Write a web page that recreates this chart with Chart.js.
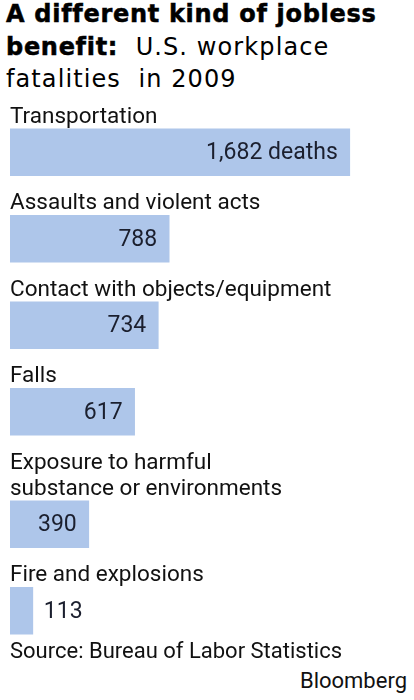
<!DOCTYPE html>
<html>
<head>
<meta charset="utf-8">
<script src="https://cdn.jsdelivr.net/npm/chart.js@4.4.1/dist/chart.umd.min.js"></script>
<style>
    html, body { margin: 0; padding: 0; background: #fff; }
    body { width: 414px; height: 700px; position: relative; overflow: hidden; font-family: Roboto, sans-serif; color: #111; }
    #title { position: absolute; left: 6px; top: -2px; font-family: "DejaVu Sans", sans-serif; font-size: 24px; letter-spacing: 1.1px; line-height: 32.5px; white-space: pre; color: #000; }
    #title b { font-weight: 700; font-size: 24px; letter-spacing: 0.7px; -webkit-text-stroke: 0.5px #000; }
    .box { position: absolute; left: 0; width: 414px; }
    #boxA { top: 84px; height: 371px; }
    #boxB { top: 439px; height: 215px; }
    .note { position: absolute; font-size: 22px; line-height: 24px; white-space: nowrap; color: #111; }
    #source { left: 10px; top: 639px; }
    #credit { right: 7px; top: 669px; }
</style>
</head>
<body>
<div id="title"><b>A different kind of jobless</b>
<b>benefit:</b>  U.S. workplace
fatalities  in 2009</div>
<div class="box" id="boxA"><canvas id="chartA"></canvas></div>
<div class="box" id="boxB"><canvas id="chartB"></canvas></div>
<div class="note" id="source">Source: Bureau of Labor Statistics</div>
<div class="note" id="credit">Bloomberg</div>
<script>
const categories = [
    ['Transportation'],
    ['Assaults and violent acts'],
    ['Contact with objects/equipment'],
    ['Falls'],
    ['Exposure to harmful', 'substance or environments'],
    ['Fire and explosions']
];
const deaths = [1682, 788, 734, 617, 390, 113];
const unitLabels = [' deaths', '', '', '', '', ''];
const xMax = 2000;

const BAR_COLOR = '#aec6ea';
const TEXT_COLOR = '#111111';
const VALUE_COLOR = '#1b1f2e';

// draws the category name above each bar and the count inside/next to it
const barLabels = {
    id: 'barLabels',
    afterDatasetsDraw(chart) {
        const ctx = chart.ctx;
        const meta = chart.getDatasetMeta(0);
        const cats = chart.data.labels;
        const vals = chart.data.datasets[0].data;
        const units = chart.options.plugins.barLabels.units;

        ctx.save();
        meta.data.forEach((bar, i) => {
            const { x, y, base, height } = bar.getProps(['x', 'y', 'base', 'height'], true);
            const top = y - height / 2;

            ctx.font = '22.5px Roboto';
            ctx.fillStyle = TEXT_COLOR;
            ctx.textAlign = 'left';
            ctx.textBaseline = 'alphabetic';
            const lines = cats[i];
            lines.forEach((line, j) => {
                const fromBottom = lines.length - 1 - j;
                ctx.fillText(line, 10, top - 6 - fromBottom * 25.5);
            });

            ctx.font = '23px Roboto';
            const txt = vals[i].toLocaleString('en-US') + units[i];
            const w = ctx.measureText(txt).width;
            ctx.fillStyle = VALUE_COLOR;
            ctx.textBaseline = 'middle';
            if (x - base >= w + 24) {
                ctx.textAlign = 'right';
                ctx.fillText(txt, x - 12, y + 1);
            } else {
                ctx.textAlign = 'left';
                ctx.fillText(txt, x + 11, y + 1);
            }
        });
        ctx.restore();
    }
};

function makeChart(canvasId, from, to, padTop) {
    return new Chart(document.getElementById(canvasId), {
        type: 'bar',
        data: {
            labels: categories.slice(from, to),
            datasets: [{
                data: deaths.slice(from, to),
                backgroundColor: BAR_COLOR,
                borderWidth: 0,
                barThickness: 47
            }]
        },
        options: {
            indexAxis: 'y',
            responsive: true,
            maintainAspectRatio: false,
            animation: false,
            layout: { padding: { left: 10, right: 0, top: padTop, bottom: 0 } },
            scales: {
                x: { min: 0, max: xMax, display: false },
                y: { display: false }
            },
            plugins: {
                legend: { display: false },
                tooltip: { enabled: false },
                barLabels: { units: unitLabels.slice(from, to) }
            }
        },
        plugins: [barLabels]
    });
}

makeChart('chartA', 0, 4, 25);
makeChart('chartB', 4, 6, 42);
</script>
</body>
</html>
